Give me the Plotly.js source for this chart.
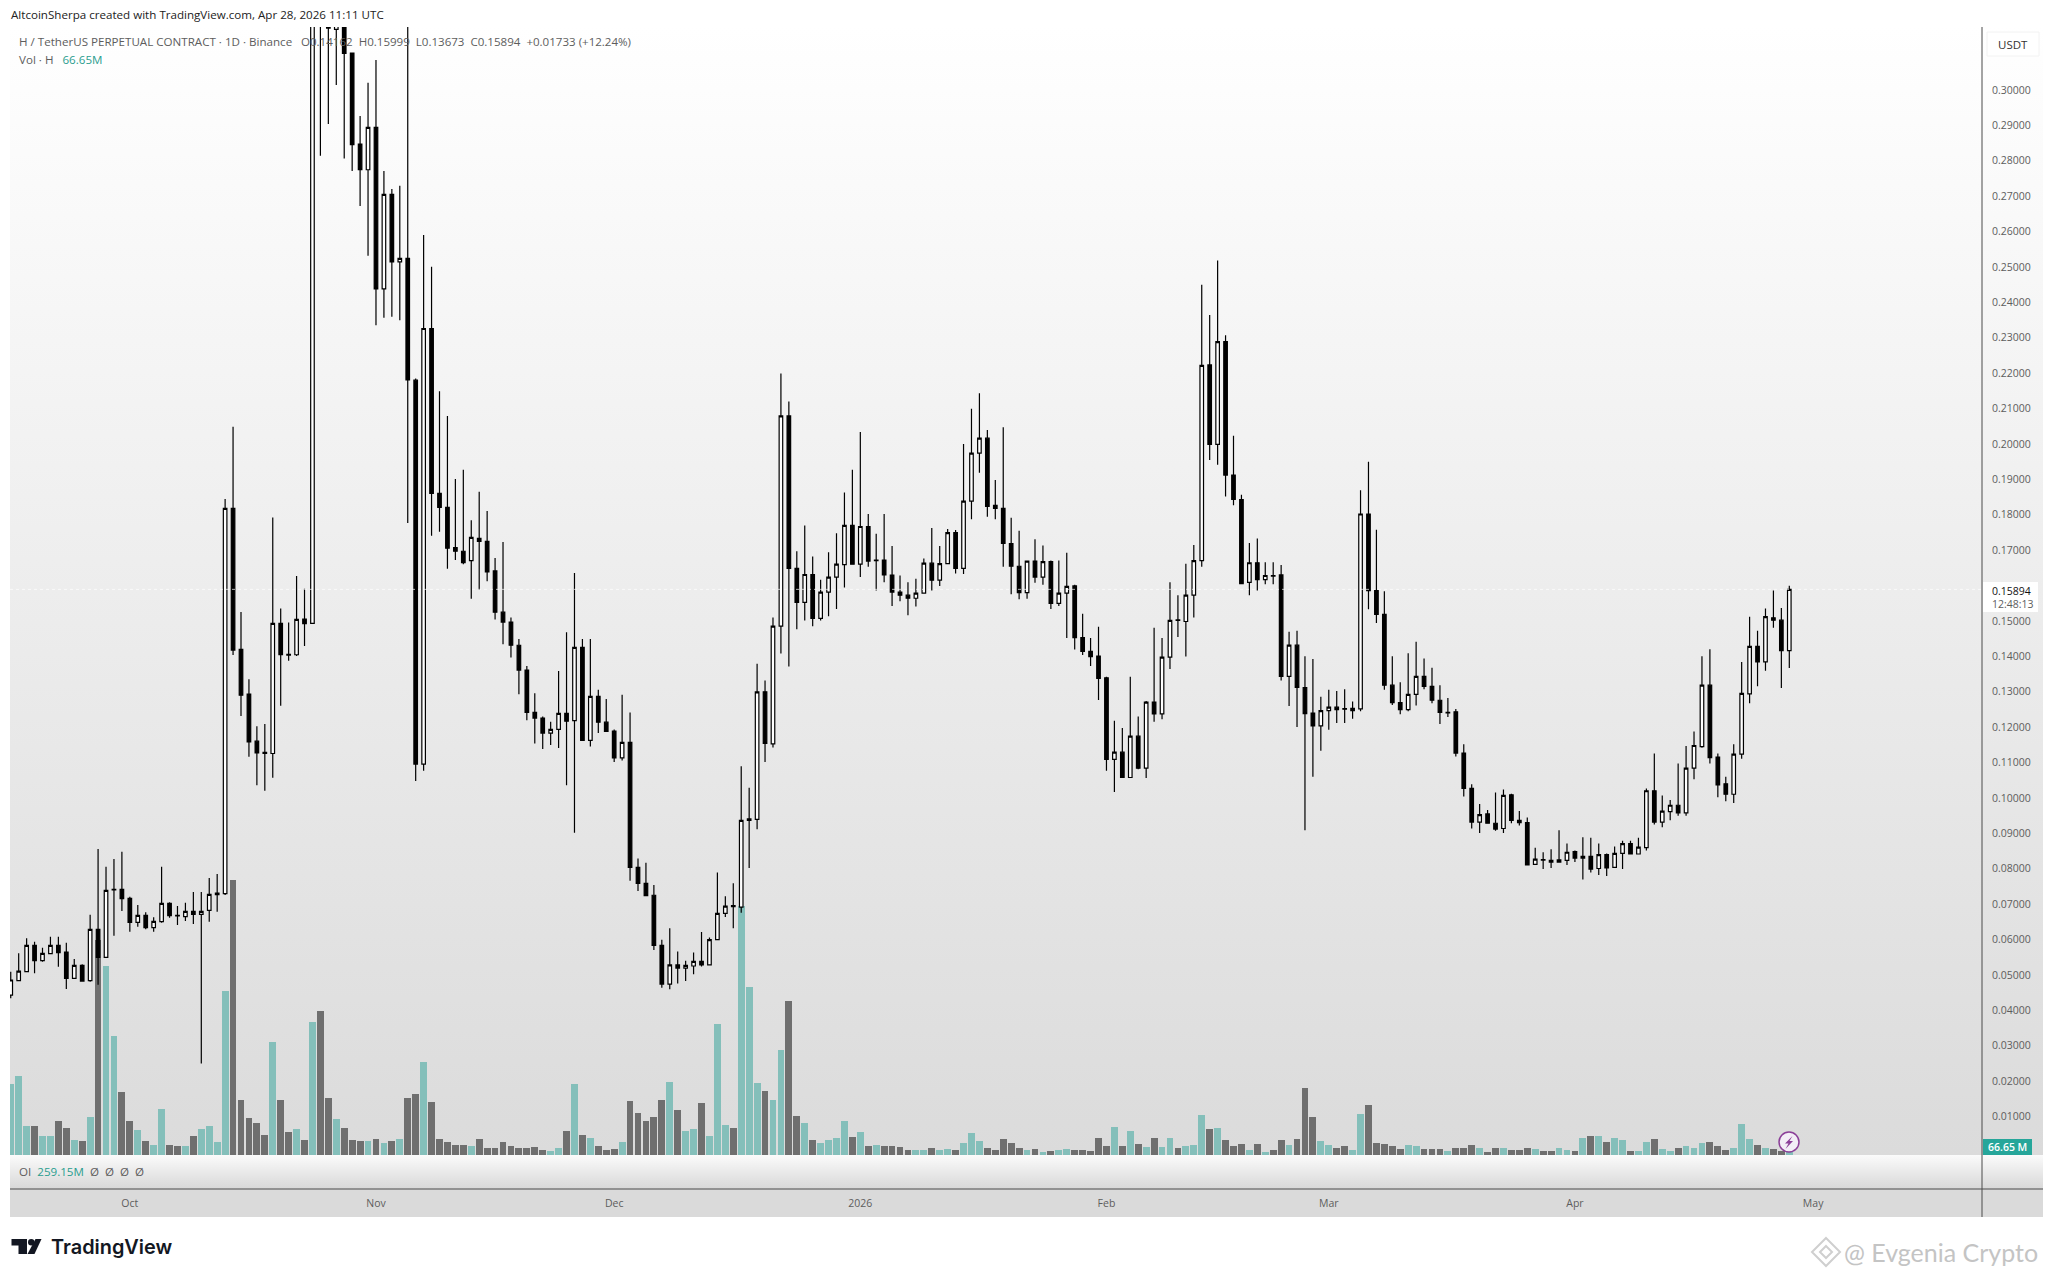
<!DOCTYPE html>
<html>
<head>
<meta charset="utf-8">
<script src="https://cdn.plot.ly/plotly-3.0.1.min.js"></script>
<style>
  html, body { margin: 0; padding: 0; background: #fff; }
  #wrap { position: relative; width: 2054px; height: 1277px; overflow: hidden; }
  .bg { position: absolute; left: 10px; width: 2033px; }
  #chart { position: absolute; left: 0; top: 0; width: 2054px; height: 1277px; }
</style>
</head>
<body>
<div id="wrap">
  <div class="bg" style="top:27px;height:1128px;background:linear-gradient(#ffffff,#dbdbdb)"></div>
  <div class="bg" style="top:1155px;height:34px;background:linear-gradient(#fbfbfb,#d8d8d8)"></div>
  <div class="bg" style="top:1189px;height:28px;background:#dadada"></div>
  <div id="chart"></div>
</div>
<script>
const firstDay = '2025-09-16';

const opens = [
  .04434,.04839,.05093,.05837,.05404,.05602,.05837,.05649,.04905,.05272,
  .04839,.06289,.05498,.07401,.07420,.07166,.06487,.06685,.06337,.06506,
  .07024,.06685,.06647,.06798,.06713,.06826,.07269,.07297,.18182,.14197,
  .12935,.11606,.11286,.11257,.14932,.14056,.14046,.15054,.14932,.345,
  .33,.31713,.322,.31044,.28473,.27747,.28944,.24385,.27050,.25147,
  .25242,.21803,.10959,.23263,.18604,.18210,.17072,.16970,.16707,.17335,
  .17247,.16415,.15248,.14971,.14315,.13614,.12418,.12257,.11834,.11936,
  .12389,.12184,.14256,.11630,.12870,.12141,.11893,.11134,.11572,.08041,
  .07589,.07253,.05838,.04744,.05284,.05196,.05254,.05386,.05284,.05999,
  .06742,.06962,.06918,.09369,.09398,.12998,.11528,.14854,.20792,.16488,
  .15526,.16313,.15073,.15817,.16240,.16591,.17699,.16605,.17670,.16707,
  .16722,.16299,.15817,.15730,.15642,.15788,.16634,.16153,.16620,.17495,
  .16488,.18385,.19742,.20165,.18268,.18181,.17189,.16547,.15803,.16693,
  .16240,.16678,.15496,.15788,.15992,.14533,.14140,.14008,.13395,.11090,
  .11294,.10579,.11747,.10842,.12710,.12374,.13979,.15030,.14986,.15730,
  .16707,.22235,.19989,.22890,.19121,.18432,.16089,.16646,.16171,.16285,
  .16302,.13433,.14318,.13122,.12401,.12040,.12466,.12565,.12524,.12466,
  .12516,.18023,.15859,.15187,.13188,.12696,.12499,.12925,.13433,.13155,
  .12761,.12401,.12434,.11270,.10270,.09320,.09549,.09287,.09139,.10090,
  .09369,.09303,.08123,.08262,.08238,.08189,.08238,.08484,.08303,.08352,
  .08008,.08402,.08041,.08434,.08713,.08418,.08598,.10205,.09319,.09615,
  .09795,.09582,.10844,.11450,.13188,.11155,.10402,.10106,.11237,.12942,
  .14286,.13843,.15089,.15024,.14162
];

const highs = [
  .05093,.05611,.06035,.05941,.05771,.06082,.06082,.05913,.05451,.05300,
  .06704,.08560,.08060,.08277,.08484,.07213,.06977,.06770,.06629,.08060,
  .07052,.06949,.07043,.07344,.07344,.07740,.07853,.18445,.20489,.15252,
  .13358,.12030,.12087,.17927,.15356,.14960,.16269,.15911,.36,.38,
  .34,.33,.335,.3105,.29264,.30206,.30847,.27710,.27201,.27295,
  .345,.2185,.25901,.25006,.21493,.20792,.19012,.19275,.17845,.18648,
  .18108,.16780,.17233,.15102,.14490,.13731,.12958,.12301,.12155,.13585,
  .14679,.16357,.14490,.14490,.13060,.12797,.11936,.12914,.12418,.08289,
  .08172,.07545,.05998,.06319,.05663,.05400,.05634,.06217,.06057,.07895,
  .07224,.07589,.10900,.10288,.13789,.13322,.15102,.21989,.21201,.16970,
  .17699,.16824,.16167,.16941,.17481,.18633,.19275,.20340,.18020,.17466,
  .18020,.17116,.16284,.16095,.16197,.16766,.17626,.17116,.17597,.17568,
  .19999,.20997,.21434,.20399,.18983,.20472,.17918,.17553,.16707,.17306,
  .17130,.16707,.16707,.16926,.16021,.15205,.14519,.14840,.13425,.12184,
  .11980,.13425,.12301,.12739,.14811,.14519,.16095,.15730,.16620,.17145,
  .24497,.23644,.25185,.23071,.20235,.18563,.17203,.17334,.16662,.16662,
  .16580,.14696,.14728,.14007,.13925,.12860,.13056,.13024,.13073,.12729,
  .18695,.19498,.17580,.15843,.14007,.13270,.14089,.14417,.13942,.13680,
  .13187,.12827,.12516,.11516,.10385,.09828,.09664,.10155,.10237,.10123,
  .09631,.09451,.08598,.08467,.08549,.09090,.08713,.08516,.08893,.08877,
  .08713,.08434,.08631,.08795,.08795,.08877,.10270,.11254,.10073,.09943,
  .10975,.11467,.11876,.14007,.14204,.11254,.10598,.11516,.13843,.15122,
  .14728,.15351,.15859,.15367,.15999
];

const lows = [
  .04340,.04820,.05074,.05046,.05376,.05592,.05234,.04603,.04895,.04811,
  .04811,.04726,.05489,.06110,.06808,.06224,.06365,.06289,.06224,.06478,
  .06619,.06412,.06525,.06440,.02503,.06506,.06789,.07259,.14037,.12313,
  .11163,.10363,.10203,.10570,.12605,.13877,.14009,.14291,.14922,.28143,
  .29038,.30140,.28068,.27710,.26721,.25317,.23358,.23565,.23593,.23499,
  .17768,.10477,.10769,.17408,.17524,.16474,.16722,.16605,.15628,.15876,
  .16124,.15044,.14344,.13968,.12929,.12199,.11542,.11382,.11499,.11411,
  .10361,.09018,.11630,.11455,.11834,.11878,.11017,.11061,.07662,.07370,
  .07224,.05706,.04642,.04598,.04758,.04831,.05021,.05240,.05284,.05984,
  .06640,.06319,.06757,.08026,.09120,.11017,.11426,.14081,.13716,.14767,
  .15015,.14854,.15015,.15132,.15336,.15949,.16605,.16240,.16532,.15861,
  .16095,.15423,.15555,.15161,.15409,.15773,.15861,.15992,.16605,.16342,
  .16328,.17874,.19188,.17947,.17874,.16532,.15759,.15613,.15628,.16080,
  .16022,.15336,.15423,.14519,.14198,.14037,.13731,.12768,.10769,.10171,
  .10579,.10565,.10813,.10565,.12155,.12228,.13643,.14548,.13994,.15102,
  .16532,.19547,.19416,.18514,.18268,.16056,.15728,.15859,.16039,.16039,
  .13319,.12598,.12007,.09090,.10598,.11335,.11925,.12122,.12122,.12237,
  .12450,.15335,.14941,.13056,.12630,.12368,.12450,.12614,.13073,.12680,
  .12089,.12286,.11172,.10041,.09139,.09008,.09270,.09074,.09008,.09287,
  .09221,.08107,.08107,.07992,.08025,.08189,.08107,.08189,.07697,.07893,
  .07828,.07795,.08025,.07992,.08402,.08402,.08516,.09254,.09172,.09369,
  .09500,.09500,.10532,.11417,.10975,.10024,.09910,.09861,.11106,.12680,
  .13155,.13597,.14810,.13106,.13673
];

const closes = [
  .04858,.05112,.05837,.05404,.05611,.05837,.05630,.04905,.05272,.04829,
  .06289,.05498,.07392,.07420,.07156,.06487,.06685,.06337,.06516,.07024,
  .06676,.06666,.06798,.06713,.06798,.07279,.07316,.18182,.14178,.12906,
  .11587,.11276,.11257,.14932,.14046,.14037,.15045,.14922,.345,.33,
  .3175,.32,.31035,.28454,.27747,.28944,.24385,.27050,.25147,.25242,
  .21814,.10959,.23263,.18604,.18210,.17057,.16970,.16649,.17364,.17247,
  .16386,.15248,.14971,.14315,.13614,.12418,.12257,.11834,.11936,.12389,
  .12170,.14256,.11630,.12870,.12141,.11878,.11134,.11572,.08041,.07589,
  .07238,.05838,.04744,.05284,.05196,.05269,.05386,.05284,.05999,.06742,
  .06947,.06932,.09369,.09413,.12998,.11542,.14854,.20792,.16488,.15526,
  .16313,.15073,.15817,.16240,.16605,.17699,.16605,.17670,.16693,.16722,
  .16299,.15817,.15730,.15642,.15788,.16634,.16153,.16620,.17495,.16488,
  .18385,.19742,.20165,.18239,.18181,.17189,.16547,.15803,.16693,.16240,
  .16678,.15496,.15788,.15978,.14533,.14140,.13994,.13381,.11090,.11294,
  .10579,.11747,.10842,.12710,.12374,.13979,.15015,.15015,.15730,.16707,
  .22222,.19989,.22890,.19121,.18432,.16056,.16646,.16171,.16285,.16270,
  .13433,.14318,.13122,.12384,.12040,.12466,.12565,.12499,.12508,.12532,
  .18023,.15859,.15187,.13188,.12696,.12499,.12925,.13433,.13155,.12761,
  .12417,.12417,.11270,.10270,.09320,.09533,.09287,.09123,.10074,.09369,
  .09303,.08107,.08271,.08246,.08189,.08254,.08467,.08303,.08352,.07992,
  .08402,.08025,.08434,.08713,.08418,.08615,.10205,.09319,.09631,.09795,
  .09582,.10844,.11483,.13188,.11139,.10369,.10106,.11237,.12958,.14286,
  .13843,.15122,.15024,.14161,.15894
];

// volume in millions
const volumes = [
  709,789,290,290,190,190,340,270,150,140,
  380,2150,1888,1189,629,340,250,140,100,460,
  100,90,90,190,260,290,130,1638,2750,549,
  370,320,200,1129,549,230,260,150,1329,1439,
  569,360,270,150,140,143,160,120,140,160,
  569,609,930,527,160,129,98,98,88,160,
  67,67,129,88,67,67,77,46,36,67,
  238,708,196,170,88,46,57,129,537,418,
  336,377,547,728,449,238,258,517,186,1307,
  300,269,2495,1679,718,640,547,1048,1539,387,
  325,155,119,150,170,336,181,227,88,98,
  88,88,77,46,46,46,67,46,57,46,
  119,217,139,67,46,160,119,67,46,57,
  26,36,46,57,46,46,36,170,88,279,
  88,238,108,77,170,77,170,67,88,98,
  398,258,269,150,88,108,46,110,35,52,
  151,99,157,667,377,139,99,75,87,46,
  406,505,116,110,87,64,99,93,58,58,
  58,41,70,75,99,70,35,75,75,52,
  46,70,58,41,41,70,52,41,168,191,
  186,133,168,151,41,41,128,162,64,41,
  75,87,75,116,128,87,46,70,307,157,
  99,70,58,41,66.65
];

// 0.16 sits under the last-price label, so it is left out
const priceTicks = [
  0.01,0.02,0.03,0.04,0.05,0.06,0.07,0.08,0.09,0.10,
  0.11,0.12,0.13,0.14,0.15,0.17,0.18,0.19,0.20,
  0.21,0.22,0.23,0.24,0.25,0.26,0.27,0.28,0.29,0.30
];
const monthDates = ['2025-10-01','2025-11-01','2025-12-01','2026-01-01','2026-02-01','2026-03-01','2026-04-01','2026-05-01'];
const monthLabels = ['Oct','Nov','Dec','2026','Feb','Mar','Apr','May'];
const lastPrice = 0.15894;

const DAY = 86400000;
const startMs = Date.parse(firstDay);
const dates = opens.map((_, i) => new Date(startMs + i * DAY).toISOString().slice(0, 10));
const iso = d => new Date(startMs + d * DAY).toISOString();

const TEAL = '#84bfba';
const GREY = '#6f6f6f';
const volColors = opens.map((o, i) => closes[i] >= o ? TEAL : GREY);

// pane edges in page pixels
const L = 10, R = 1982, T = 27, B = 1189, VOLB = 1155;
const px = x => (x - L) / (R - L);
const py = y => (B - y) / (B - T);

function note(x, y, text, size, color, extra) {
  return Object.assign({
    xref: 'paper', yref: 'paper', x: px(x), y: py(y), text: text, showarrow: false,
    xanchor: 'left', yanchor: 'middle', borderpad: 0,
    font: {family: 'Open Sans, sans-serif', size: size, color: color}
  }, extra || {});
}

function box(x0, y0, x1, y1, fill) {
  return {type: 'rect', xref: 'paper', yref: 'paper', x0: px(x0), x1: px(x1), y0: py(y0), y1: py(y1),
    fillcolor: fill, line: {width: 0}, layer: 'above'};
}

function seg(x0, y0, x1, y1, color, width) {
  return {type: 'line', xref: 'paper', yref: 'paper', x0: px(x0), x1: px(x1), y0: py(y0), y1: py(y1),
    line: {color: color, width: width}, layer: 'above'};
}

function poly(points, fill, lineColor, lineWidth) {
  const d = points.map((p, i) => (i ? 'L' : 'M') + px(p[0]) + ',' + py(p[1])).join(' ') + ' Z';
  return {type: 'path', xref: 'paper', yref: 'paper', path: d, fillcolor: fill,
    line: {color: lineColor || fill, width: lineWidth || 0}, layer: 'above'};
}

const grey = '#5d5d5d';
const green = '#2a9d8f';

const annotations = [
  note(10, 15, 'AltcoinSherpa created with TradingView.com, Apr 28, 2026 11:11 UTC', 11.6, '#222'),
  note(18, 42, 'H / TetherUS PERPETUAL CONTRACT · 1D · Binance', 11.6, grey),
  note(300, 42, 'O0.14162&nbsp;&nbsp;H0.15999&nbsp;&nbsp;L0.13673&nbsp;&nbsp;C0.15894&nbsp;&nbsp;+0.01733 (+12.24%)', 11.55, grey),
  note(18, 59, 'Vol · H&nbsp;&nbsp;&nbsp;<span style="color:' + green + '">66.65M</span>', 11.6, grey),
  note(18, 1171, 'OI&nbsp;&nbsp;<span style="color:' + green + '">259.15M</span>&nbsp;&nbsp;Ø&nbsp;&nbsp;Ø&nbsp;&nbsp;Ø&nbsp;&nbsp;Ø', 11.6, grey),
  note(2012.5, 45, 'USDT', 11.5, '#333', {xanchor: 'center'}),
  note(1991, 591, '0.15894', 10.5, '#111'),
  note(1991, 604, '12:48:13', 10.5, grey),
  note(2007, 1147, '66.65 M', 10.5, '#fff', {xanchor: 'center', font: {family: 'Open Sans, sans-serif', size: 10.5, color: '#fff', weight: 600}}),
  note(50, 1247, 'TradingView', 19.9, '#131722', {font: {family: 'Inter, sans-serif', size: 19.9, color: '#131722', weight: 600}}),
  note(1843, 1252, '@ Evgenia Crypto', 25, '#c4c4c4', {font: {family: 'Lato, sans-serif', size: 25, color: '#c4c4c4'}})
];

const shapes = [
  {type: 'line', xref: 'paper', yref: 'y2', x0: 0, x1: 1, y0: lastPrice, y1: lastPrice,
    line: {color: '#ffffff', width: 1, dash: 'dot'}, opacity: 0.7, layer: 'above'},
  seg(L, B, 2043, B, '#4a4a4a', 1),
  seg(R, T, R, 1217, '#4a4a4a', 1),
  box(1983, 582, 2038, 612, '#ffffff'),
  box(1983, 1139, 2032, 1155, '#26a69a'),
  Object.assign(box(1987, 32, 2039, 56, '#ffffff'), {line: {color: '#f2f2f2', width: 1}}),
  // lightning badge on the last bar
  {type: 'circle', xref: 'paper', yref: 'paper', x0: px(1779), x1: px(1799), y0: py(1132), y1: py(1152),
    fillcolor: '#f3eef6', line: {color: '#8b3f98', width: 1.5}, layer: 'above'},
  poly([[1792.5, 1136], [1785, 1143.5], [1788.5, 1143.5], [1785.5, 1149], [1793, 1141], [1789.5, 1141]], '#8b3f98'),
  // TradingView logo
  poly([[11.5, 1239], [27, 1239], [27, 1254], [18.5, 1254], [18.5, 1245.5], [11.5, 1245.5]], '#131722'),
  {type: 'circle', xref: 'paper', yref: 'paper', x0: px(28), x1: px(34.5), y0: py(1239), y1: py(1245.5),
    fillcolor: '#131722', line: {width: 0}, layer: 'above'},
  poly([[35.5, 1239], [41.5, 1239], [34.5, 1254], [27.5, 1254]], '#131722'),
  // watermark mark
  poly([[1826, 1238], [1840, 1252], [1826, 1266], [1812, 1252]], 'rgba(0,0,0,0)', '#cfcfcf', 2),
  poly([[1826, 1246], [1832, 1252], [1826, 1258], [1820, 1252]], 'rgba(0,0,0,0)', '#cfcfcf', 2)
];

const volumeTrace = {
  type: 'bar',
  x: dates,
  y: volumes,
  yaxis: 'y',
  width: DAY * 0.86,
  marker: {color: volColors, line: {width: 0}},
  hoverinfo: 'skip'
};

const priceTrace = {
  type: 'candlestick',
  x: dates,
  open: opens,
  high: highs,
  low: lows,
  close: closes,
  yaxis: 'y2',
  increasing: {line: {color: '#000', width: 1.2}, fillcolor: '#fff'},
  decreasing: {line: {color: '#000', width: 1.2}, fillcolor: '#000'},
  whiskerwidth: 0,
  hoverinfo: 'skip'
};

const volDomain = [(B - VOLB) / (B - T), 1];

const layout = {
  width: 2054,
  height: 1277,
  margin: {l: L, r: 2054 - R, t: T, b: 1277 - B, pad: 0},
  paper_bgcolor: 'rgba(0,0,0,0)',
  plot_bgcolor: 'rgba(0,0,0,0)',
  showlegend: false,
  boxgap: 0.36,
  bargap: 0,
  xaxis: {
    type: 'date',
    range: [iso(-0.093), iso(248.27)],
    rangeslider: {visible: false},
    anchor: 'free',
    position: 0,
    tickmode: 'array',
    tickvals: monthDates,
    ticktext: monthLabels,
    ticks: '',
    ticklabelstandoff: 6,
    showgrid: false,
    zeroline: false,
    showline: false,
    tickfont: {family: 'Open Sans, sans-serif', size: 10.5, color: '#5d5d5d'}
  },
  // bars: 10 M a pixel, zero on the pane floor
  yaxis: {
    domain: volDomain,
    range: [0, (VOLB - T) * 10],
    visible: false,
    fixedrange: true
  },
  yaxis2: {
    domain: volDomain,
    overlaying: 'y',
    side: 'right',
    anchor: 'x',
    range: [-0.00085, 0.3178],
    tickmode: 'array',
    tickvals: priceTicks,
    tickformat: '.5f',
    ticks: '',
    ticklabelstandoff: 9,
    showgrid: false,
    zeroline: false,
    showline: false,
    tickfont: {family: 'Open Sans, sans-serif', size: 10.5, color: '#5d5d5d'}
  },
  annotations: annotations,
  shapes: shapes
};

Plotly.newPlot('chart', [volumeTrace, priceTrace], layout, {displayModeBar: false, staticPlot: true});
</script>
</body>
</html>
